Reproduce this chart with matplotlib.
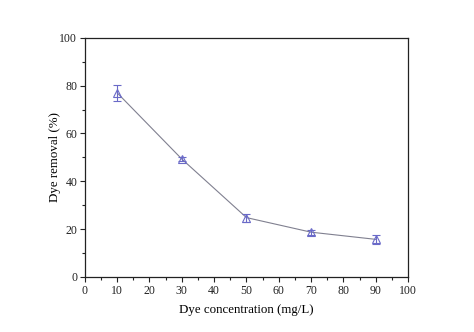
import matplotlib.pyplot as plt
from matplotlib.ticker import MultipleLocator

plt.rcParams['font.family'] = ['Liberation Serif', 'DejaVu Serif']

conc = [10, 30, 50, 70, 90]
removal = [77.0, 49.3, 24.8, 18.7, 15.7]
err = [3.3, 0.9, 1.7, 1.1, 2.0]

fig = plt.figure(figsize=(4.74, 3.32), dpi=100)
ax = fig.add_axes([0.179, 0.166, 0.682, 0.72])

ax.plot(conc, removal, color='#808090', lw=0.8, zorder=1)
ax.errorbar(conc, removal, yerr=err, fmt='^', ms=6, mfc='none', mec='#6a6ac8',
            ecolor='#6a6ac8', elinewidth=0.8, capsize=3, capthick=0.8, mew=0.8, zorder=2)

ax.set_xlim(0, 100)
ax.set_ylim(0, 100)
ax.xaxis.set_major_locator(MultipleLocator(10))
ax.xaxis.set_minor_locator(MultipleLocator(5))
ax.yaxis.set_major_locator(MultipleLocator(20))
ax.yaxis.set_minor_locator(MultipleLocator(10))
ax.tick_params(which='both', direction='out', labelsize=8.5, width=0.8, colors='#222222')
ax.tick_params(which='major', length=3.5, pad=2)
ax.tick_params(which='minor', length=2)
for s in ax.spines.values():
    s.set_linewidth(0.9)
    s.set_color('#222222')

ax.set_xlabel('Dye concentration (mg/L)', fontsize=9.3, labelpad=5.5)
ax.set_ylabel('Dye removal (%)', fontsize=9.3, labelpad=-1)

fig.savefig('out.png', dpi=100)
